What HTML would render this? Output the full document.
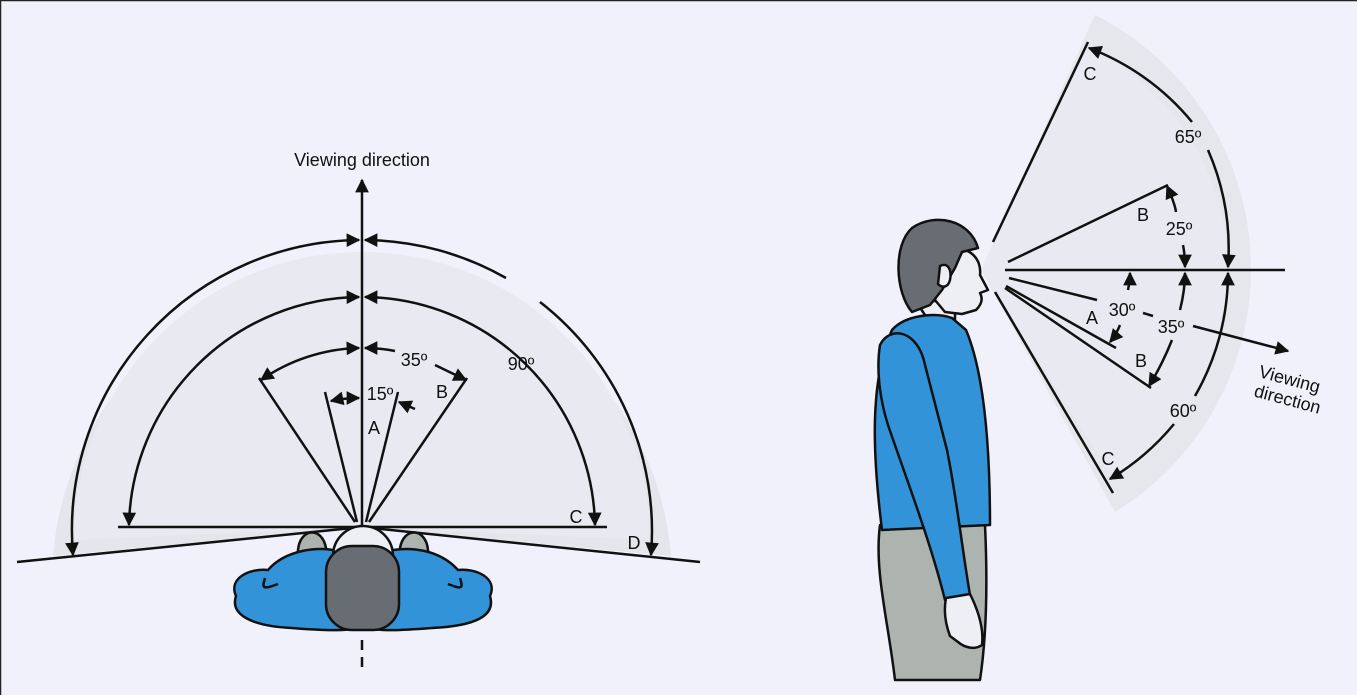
<!DOCTYPE html>
<html><head><meta charset="utf-8"><style>
html,body{margin:0;padding:0;background:#f0f1fa;}
svg{display:block;font-family:"Liberation Sans",sans-serif;}
</style></head><body>
<svg width="1357" height="695" viewBox="0 0 1357 695" xmlns="http://www.w3.org/2000/svg">
<defs>
<marker id="ah" viewBox="0 0 10 10" refX="9" refY="5" markerWidth="6" markerHeight="5.5" orient="auto-start-reverse" markerUnits="strokeWidth">
<path d="M0,0 L10,5 L0,10 Z" fill="#111"/></marker>
</defs>
<rect x="0" y="0" width="1357" height="695" fill="#f0f1fa"/>
<path d="M0.5 695 V0.5 H1357" fill="none" stroke="#222" stroke-width="1.5"/>

<!-- LEFT shaded -->
<path d="M53 556 A310 310 0 0 1 671 556 L362 527 Z" fill="#e5e5ec"/>
<path d="M74 540 A288 288 0 0 1 650 540 L362 527 Z" fill="#e9e9f1"/>

<g stroke="#111" stroke-width="2.5" fill="none">
<line x1="17" y1="562" x2="362" y2="527"/>
<line x1="362" y1="527" x2="700" y2="562"/>
<line x1="118" y1="527" x2="607" y2="527"/>
<line x1="362" y1="527" x2="362" y2="180" marker-end="url(#ah)"/>
<line x1="362" y1="640" x2="362" y2="672" stroke-dasharray="10,7"/>
<line x1="355" y1="522" x2="259" y2="378"/>
<line x1="369" y1="522" x2="467" y2="378"/>
<line x1="357" y1="522" x2="325" y2="392"/>
<line x1="366" y1="522" x2="398" y2="392"/>
<path d="M73 555 A290 290 0 0 1 359 240" marker-start="url(#ah)" marker-end="url(#ah)"/>
<path d="M365 240 A290 290 0 0 1 506 278" marker-start="url(#ah)"/>
<path d="M540 302 A290 290 0 0 1 651 555" marker-end="url(#ah)"/>
<path d="M129 525 A233 233 0 0 1 359 297" marker-start="url(#ah)" marker-end="url(#ah)"/>
<path d="M365 297 A233 233 0 0 1 595 525" marker-start="url(#ah)" marker-end="url(#ah)"/>
<path d="M261 380 A180 180 0 0 1 359 348" marker-start="url(#ah)" marker-end="url(#ah)"/>
<path d="M365 348 Q380 348 395 351" marker-start="url(#ah)"/>
<path d="M435 365 L466 380" marker-end="url(#ah)"/>
<path d="M331 401 Q345 398 359 398" marker-start="url(#ah)" marker-end="url(#ah)"/>
<path d="M415 409 L399 402" marker-end="url(#ah)"/>
</g>
<g font-size="18" fill="#111">
<text x="362" y="166" text-anchor="middle">Viewing direction</text>
<text x="414" y="366" text-anchor="middle">35º</text>
<text x="380" y="400" text-anchor="middle">15º</text>
<text x="374" y="434" text-anchor="middle">A</text>
<text x="442" y="398" text-anchor="middle">B</text>
<text x="521" y="370" text-anchor="middle">90º</text>
<text x="576" y="523" text-anchor="middle">C</text>
<text x="634" y="549" text-anchor="middle">D</text>
</g>

<!-- top view person -->
<g stroke="#111" stroke-width="2.5">
<path d="M298 550 C300 528 322 526 326 548 L328 565 L296 565 Z" fill="#adb3ae"/>
<path d="M400 548 C404 526 426 528 428 550 L430 565 L398 565 Z" fill="#adb3ae"/>
<path d="M236 596 C228 578 250 568 268 570 C285 550 320 545 340 552 L384 552 C410 545 440 550 458 570 C476 568 498 578 490 596 C496 616 475 626 432 628 C405 630 380 632 362 627 C345 632 320 630 292 628 C250 626 230 614 236 596 Z" fill="#3393d8"/>
<path d="M333 556 A30 30 0 0 1 393 556 Z" fill="#eeeff4"/>
<rect x="326" y="546" width="73" height="84" rx="26" fill="#676d72"/>
<path d="M265 578 C262 588 262 590 278 584" fill="none"/>
<path d="M460 578 C463 588 463 590 448 584" fill="none"/>
</g>

<!-- RIGHT shaded sector -->
<path d="M981 270 L1095 15 A285 285 0 0 1 1115 512 Z" fill="#e6e6ed"/>
<path d="M981 270 L1086 46 A247 247 0 0 1 1113 478 Z" fill="#e9e9f1"/>

<g stroke="#111" stroke-width="2.5" fill="none">
<line x1="993" y1="242" x2="1088" y2="42"/>
<line x1="995" y1="292" x2="1113" y2="493"/>
<line x1="1008" y1="262" x2="1168" y2="185"/>
<line x1="1005" y1="270" x2="1285" y2="270"/>
<line x1="1009" y1="278" x2="1097" y2="300"/>
<line x1="1143" y1="313" x2="1153" y2="316"/>
<line x1="1193" y1="326" x2="1288" y2="351" marker-end="url(#ah)"/>
<line x1="1006" y1="286" x2="1116" y2="348"/>
<line x1="1005" y1="288" x2="1151" y2="388"/>
<path d="M1089 48 A247 247 0 0 1 1192 122" marker-start="url(#ah)"/>
<path d="M1208 150 A247 247 0 0 1 1228 267" marker-end="url(#ah)"/>
<path d="M1228 273 A247 247 0 0 1 1195 396" marker-start="url(#ah)"/>
<path d="M1174 424 A247 247 0 0 1 1110 479" marker-end="url(#ah)"/>
<path d="M1167 186 Q1175 204 1176 212" marker-start="url(#ah)"/>
<path d="M1183 245 Q1185 255 1185 267" marker-end="url(#ah)"/>
<path d="M1185 273 Q1185 290 1180 310" marker-start="url(#ah)"/>
<path d="M1172 340 Q1162 365 1149 386" marker-end="url(#ah)"/>
<path d="M1128 290 Q1130 280 1130 273" marker-end="url(#ah)"/>
<path d="M1120 325 Q1116 335 1110 342" marker-end="url(#ah)"/>
</g>
<g font-size="18" fill="#111">
<text x="1090" y="80" text-anchor="middle">C</text>
<text x="1188" y="143" text-anchor="middle">65º</text>
<text x="1143" y="221" text-anchor="middle">B</text>
<text x="1179" y="235" text-anchor="middle">25º</text>
<text x="1122" y="316" text-anchor="middle">30º</text>
<text x="1092" y="324" text-anchor="middle">A</text>
<text x="1171" y="333" text-anchor="middle">35º</text>
<text x="1141" y="367" text-anchor="middle">B</text>
<text x="1183" y="417" text-anchor="middle">60º</text>
<text x="1108" y="465" text-anchor="middle">C</text>
<text x="1288" y="385" transform="rotate(15 1288 385)" text-anchor="middle">Viewing</text>
<text x="1286" y="405" transform="rotate(15 1286 405)" text-anchor="middle">direction</text>
</g>

<!-- side view person -->
<g stroke="#111" stroke-width="2.5" stroke-linejoin="round">
<path d="M880 525 L985 525 C988 590 986 640 980 680 L895 680 C888 620 874 570 880 525 Z" fill="#adb3ae"/>
<path d="M915 300 L955 302 L955 328 L935 330 Z" fill="#eeeff4"/>
<path d="M892 330 C905 315 935 312 952 318 L966 330 C985 375 990 450 990 525 L882 530 C872 450 870 380 892 330 Z" fill="#3393d8"/>
<path d="M880 345 C890 325 918 330 925 365 L947 450 C957 500 962 548 970 595 L945 600 C930 540 905 475 888 425 C880 400 876 370 880 345 Z" fill="#3393d8"/>
<path d="M946 598 L970 594 C978 610 984 628 982 645 C975 650 965 648 958 642 L950 636 C944 620 944 608 946 598 Z" fill="#eeeff4"/>
<path d="M950 250 C968 245 982 258 980 275 L988 290 L980 293 C984 300 980 306 976 310 L962 314 L945 312 L935 300 Z" fill="#eeeff4"/>
<path d="M912 312 C895 292 893 245 912 228 C935 212 970 220 978 248 L962 252 L955 268 L942 290 L930 305 Z" fill="#676d72"/>
<path d="M940 266 C948 262 952 270 950 280 C948 288 942 288 938 284 Z" fill="#eeeff4"/>
</g>
</svg>
</body></html>
